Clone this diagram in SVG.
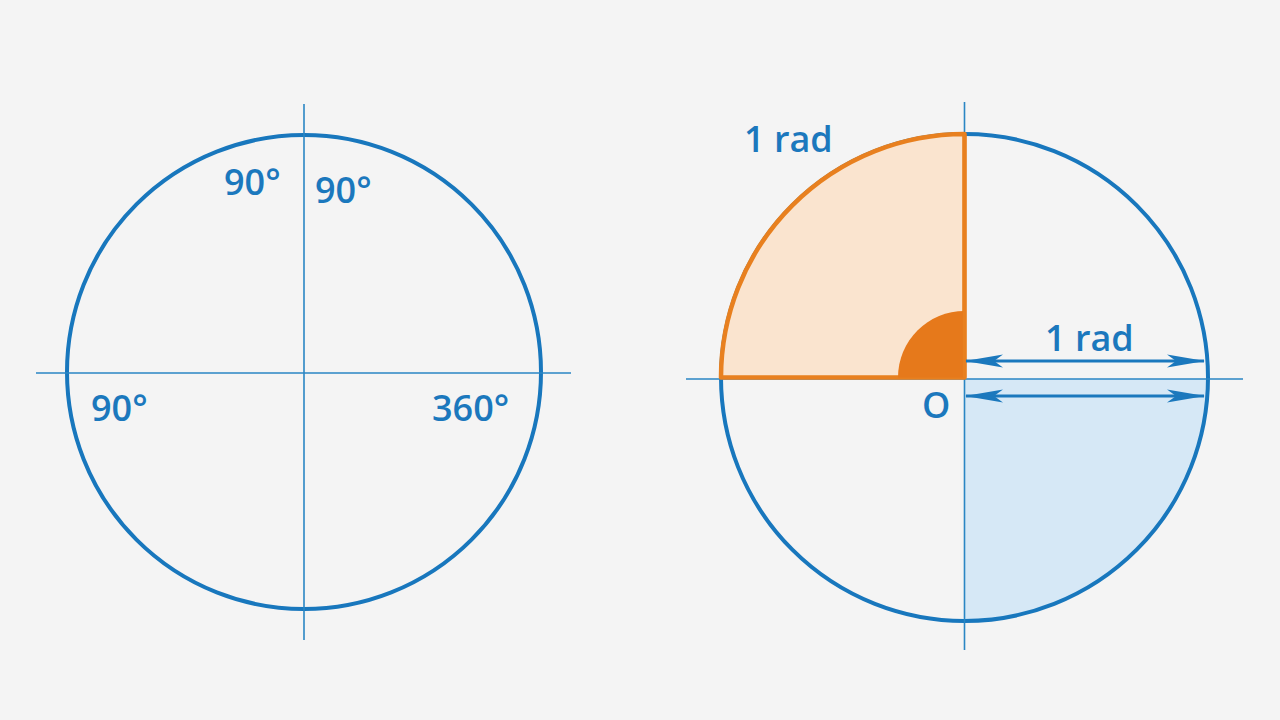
<svg xmlns="http://www.w3.org/2000/svg" width="1280" height="720" viewBox="0 0 1280 720">
<defs>
<style>
.circ{fill:none;stroke:#1877bd;stroke-width:4}
.axis{stroke:#2a86c4;stroke-width:1.6;fill:none}
.lbl{font-family:"Open Sans","Liberation Sans",sans-serif;font-size:36px;font-weight:600;fill:#1b78bd}
.dim{stroke:#1b78bd;stroke-width:3;fill:none;marker-start:url(#arrS);marker-end:url(#arrE)}
</style>
<marker id="arrE" markerWidth="38" markerHeight="14" refX="37" refY="7" orient="auto" markerUnits="userSpaceOnUse"><path d="M0,0.5 L38,7 L0,13.5 L9,7 Z" fill="#1b78bd"/></marker>
<marker id="arrS" markerWidth="38" markerHeight="14" refX="1" refY="7" orient="auto" markerUnits="userSpaceOnUse"><path d="M38,0.5 L0,7 L38,13.5 L29,7 Z" fill="#1b78bd"/></marker>
</defs>
<rect width="1280" height="720" fill="#f4f4f4"/>
<g id="left-circle">
<circle class="circ" cx="304" cy="372" r="237"/>
<line class="axis" x1="36" y1="373" x2="571" y2="373"/>
<line class="axis" x1="304" y1="104" x2="304" y2="640"/>
<text class="lbl" x="224" y="195">90°</text>
<text class="lbl" x="315" y="203">90°</text>
<text class="lbl" x="91" y="421">90°</text>
<text class="lbl" x="432" y="421">360°</text>
</g>
<g id="right-circle">
<path d="M964.5,379 L1208,379 A243.5,243.5 0 0 1 964.5,621 Z" fill="#d6e8f6"/>
<circle class="circ" cx="964.5" cy="377.5" r="243.5"/>
<line class="axis" x1="686" y1="379" x2="1243" y2="379"/>
<line class="axis" x1="964.5" y1="102" x2="964.5" y2="650"/>
<path d="M964.5,377.5 L721,377.5 A243.5,243.5 0 0 1 964.5,134 Z" fill="#fae4cf" stroke="#e8801f" stroke-width="4.5" stroke-linejoin="round"/>
<path d="M964.5,377.5 L898,377.5 A66.5,66.5 0 0 1 964.5,311 Z" fill="#e6791b"/>
<line x1="964.5" y1="134" x2="964.5" y2="377.5" stroke="#e8801f" stroke-width="3.5"/>
<text class="lbl" x="744" y="152">1 rad</text>
<text class="lbl" x="1045" y="351">1 rad</text>
<text class="lbl" x="922" y="418">O</text>
</g>
<g id="connectors">
<line class="dim" x1="966" y1="361" x2="1204" y2="361"/>
<line class="dim" x1="966" y1="396" x2="1204" y2="396"/>
</g>
</svg>
